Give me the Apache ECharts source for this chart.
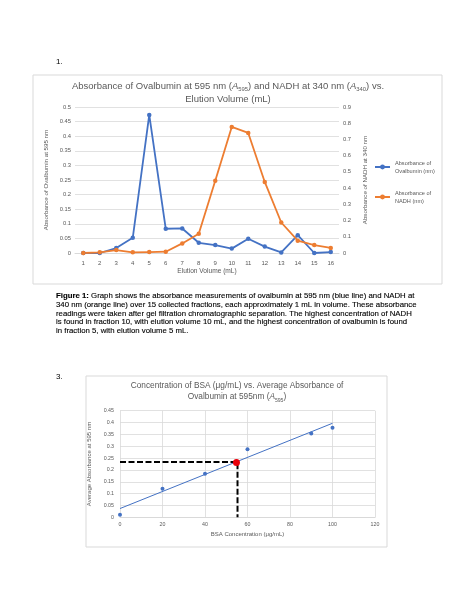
<!DOCTYPE html>
<html><head><meta charset="utf-8">
<script src="https://cdn.jsdelivr.net/npm/echarts@6.0.0/dist/echarts.min.js"></script>
<style>html,body{margin:0;padding:0;background:#fff}#c{width:474px;height:613px}</style>
</head><body><div id="c"></div>
<script>
// ---- Figure 1 data ----
const elutionVolume = ['1','2','3','4','5','6','7','8','9','10','11','12','13','14','15','16'];
const ovalbuminA595 = [0, 0, 0.017, 0.052, 0.473, 0.083, 0.084, 0.035, 0.027, 0.015, 0.049, 0.022, 0.002, 0.061, 0, 0.003];
const nadhA340 = [0, 0.004, 0.018, 0.004, 0.006, 0.008, 0.059, 0.119, 0.446, 0.777, 0.740, 0.438, 0.188, 0.076, 0.049, 0.031];
const leftTicks = {min: 0, max: 0.5, interval: 0.05};
const rightTicks = {min: 0, max: 0.9, interval: 0.1};
// ---- Figure 3 data ----
const bsaConc = [0, 20, 40, 60, 90, 100];
const bsaAbs = [0.011, 0.121, 0.184, 0.287, 0.354, 0.378];
const trendConc = [0, 100];
const trendAbs = [0.037, 0.397];
const unknownConc = [54.8];
const unknownAbs = [0.231];
const guideHConc = [0, 54.8];
const guideHAbs = [0.233, 0.233];
const guideVConc = [55.3, 55.3];
const guideVAbs = [0.228, 0];
const xTicks2 = {min: 0, max: 120, interval: 20};
const yTicks2 = {min: 0, max: 0.45, interval: 0.05};

const FONT = 'Liberation Sans';
const GREY = '#595959';
const GRID = '#d9d9d9';
const fmt = v => String(Math.round(v * 100) / 100);

const chart = echarts.init(document.getElementById('c'), null, {renderer: 'canvas'});

const pairs = (xs, ys) => xs.map((x, i) => [x, ys[i]]);

const capLines = [
  '{b|Figure 1:} Graph shows the absorbance measurements of ovalbumin at 595 nm (blue line) and NADH at',
  '340 nm (orange line) over 15 collected fractions, each approximately 1 mL in volume. These absorbance',
  'readings were taken after gel filtration chromatographic separation. The highest concentration of NADH',
  'is found in fraction 10, with elution volume 10 mL, and the highest concentration of ovalbumin is found',
  'in fraction 5, with elution volume 5 mL.'
];

const subRich = (fs) => ({
  i: {fontStyle: 'italic', fontSize: fs, fontFamily: FONT, color: GREY, lineHeight: 13},
  s: {fontSize: fs * 0.62, fontFamily: FONT, color: GREY, verticalAlign: 'bottom', lineHeight: 9}
});

const option = {
  backgroundColor: '#fff',
  animation: false,
  textStyle: {fontFamily: FONT},
  graphic: [
    {type: 'rect', shape: {x: 33, y: 75, width: 409, height: 209}, style: {fill: '#fff', stroke: GRID, lineWidth: 1}, z: -10},
    {type: 'rect', shape: {x: 86, y: 376, width: 301, height: 171}, style: {fill: '#fff', stroke: GRID, lineWidth: 1}, z: -10},
    {type: 'text', x: 56, y: 62, style: {text: '1.', fontSize: 8, fontFamily: FONT, fill: '#000', verticalAlign: 'middle'}},
    {type: 'text', x: 56, y: 377, style: {text: '3.', fontSize: 8, fontFamily: FONT, fill: '#000', verticalAlign: 'middle'}},
    {type: 'text', x: 228, y: 86, style: {
      text: 'Absorbance of Ovalbumin at 595 nm ({i|A}{s|595}) and NADH at 340 nm ({i|A}{s|340}) vs.',
      fontSize: 9.5, fontFamily: FONT, fill: GREY, align: 'center', verticalAlign: 'middle', lineHeight: 13,
      rich: subRich(9.5)}},
    {type: 'text', x: 228, y: 99, style: {text: 'Elution Volume (mL)', fontSize: 9.5, fontFamily: FONT, fill: GREY, align: 'center', verticalAlign: 'middle'}},
    {type: 'text', x: 237, y: 385.7, style: {text: 'Concentration of BSA (\u03bcg/mL) vs. Average Absorbance of', fontSize: 8.3, fontFamily: FONT, fill: GREY, align: 'center', verticalAlign: 'middle'}},
    {type: 'text', x: 237, y: 396.7, style: {text: 'Ovalbumin at 595nm ({i|A}{s|595})', fontSize: 8.3, fontFamily: FONT, fill: GREY, align: 'center', verticalAlign: 'middle', lineHeight: 13, rich: subRich(8.3)}}
  ].concat(capLines.map((t, k) => ({
    type: 'text', x: 56, y: 296 + k * 8.7,
    style: {text: t, fontSize: 7.8, fontFamily: FONT, fill: '#000', stroke: '#000', lineWidth: 0.12,
      verticalAlign: 'middle', lineHeight: 9,
      rich: {b: {fontWeight: 'bold', fontSize: 7.8, fontFamily: FONT, fill: '#000', lineHeight: 9}}}
  }))),
  legend: {
    orient: 'vertical', left: 374, top: 155, padding: 0,
    itemWidth: 15, itemHeight: 6, itemGap: 6,
    textStyle: {fontSize: 5.6, color: GREY, fontFamily: FONT, lineHeight: 8, padding: [8, 0, 0, 0]},
    data: ['Absorbance of\nOvalbumin (nm)', 'Absorbance of\nNADH (nm)']
  },
  grid: [
    {left: 75, top: 107, width: 264, height: 146, outerBoundsMode: 'none', containLabel: false},
    {left: 120, top: 410.7, width: 255, height: 106.6, outerBoundsMode: 'none', containLabel: false}
  ],
  xAxis: [
    {type: 'category', gridIndex: 0, data: elutionVolume, boundaryGap: true,
      axisLine: {lineStyle: {color: GRID}}, axisTick: {show: false},
      axisLabel: {fontSize: 6, color: GREY, margin: 7, interval: 0},
      name: 'Elution Volume (mL)', nameLocation: 'middle', nameGap: 15,
      nameTextStyle: {fontSize: 6.6, color: GREY}, splitLine: {show: false}},
    {type: 'value', gridIndex: 1, min: xTicks2.min, max: xTicks2.max, interval: xTicks2.interval,
      axisLine: {show: true, lineStyle: {color: GRID}}, axisTick: {show: false},
      axisLabel: {fontSize: 5.3, color: GREY, margin: 5},
      splitLine: {show: true, lineStyle: {color: GRID, width: 0.8}},
      name: 'BSA Concentration (\u03bcg/mL)', nameLocation: 'middle', nameGap: 14,
      nameTextStyle: {fontSize: 6, color: GREY}}
  ],
  yAxis: [
    {type: 'value', gridIndex: 0, min: leftTicks.min, max: leftTicks.max, interval: leftTicks.interval,
      axisLine: {show: false}, axisTick: {show: false},
      axisLabel: {fontSize: 5.8, color: GREY, margin: 4, formatter: fmt},
      splitLine: {show: true, lineStyle: {color: GRID, width: 0.8}},
      name: 'Absorbance of Ovalbumin at 595 nm', nameLocation: 'middle', nameGap: 19,
      nameTextStyle: {fontSize: 6.2, color: GREY}},
    {type: 'value', gridIndex: 0, position: 'right', min: rightTicks.min, max: rightTicks.max, interval: rightTicks.interval,
      axisLine: {show: false}, axisTick: {show: false},
      axisLabel: {fontSize: 5.8, color: GREY, margin: 4, formatter: fmt},
      splitLine: {show: false},
      name: 'Absorbance of NADH at 340 nm', nameLocation: 'middle', nameGap: 21,
      nameTextStyle: {fontSize: 6.2, color: GREY}},
    {type: 'value', gridIndex: 1, min: yTicks2.min, max: yTicks2.max, interval: yTicks2.interval,
      axisLine: {show: false}, axisTick: {show: false},
      axisLabel: {fontSize: 5.3, color: GREY, margin: 6, formatter: fmt},
      splitLine: {show: true, lineStyle: {color: GRID, width: 0.8}},
      name: 'Average Absorbance at 595 nm', nameLocation: 'middle', nameGap: 19,
      nameTextStyle: {fontSize: 6, color: GREY}}
  ],
  series: [
    {name: 'Absorbance of\nOvalbumin (nm)', type: 'line', xAxisIndex: 0, yAxisIndex: 0, data: ovalbuminA595,
      color: '#4472C4', symbol: 'circle', symbolSize: 4.5, lineStyle: {width: 1.8, color: '#4472C4'}, itemStyle: {color: '#4472C4'}},
    {name: 'Absorbance of\nNADH (nm)', type: 'line', xAxisIndex: 0, yAxisIndex: 1, data: nadhA340,
      color: '#ED7D31', symbol: 'circle', symbolSize: 4.5, lineStyle: {width: 1.8, color: '#ED7D31'}, itemStyle: {color: '#ED7D31'}},
    {name: 'trend', type: 'line', xAxisIndex: 1, yAxisIndex: 2, data: pairs(trendConc, trendAbs),
      symbol: 'none', lineStyle: {width: 1, color: '#4472C4'}, z: 2},
    {name: 'BSA', type: 'scatter', xAxisIndex: 1, yAxisIndex: 2, data: pairs(bsaConc, bsaAbs),
      symbolSize: 4, itemStyle: {color: '#4472C4', opacity: 1}, z: 3},
    {name: 'guideH', type: 'line', xAxisIndex: 1, yAxisIndex: 2, data: pairs(guideHConc, guideHAbs),
      symbol: 'none', lineStyle: {width: 2, color: '#000', type: [6, 2.5]}, z: 4},
    {name: 'guideV', type: 'line', xAxisIndex: 1, yAxisIndex: 2, data: pairs(guideVConc, guideVAbs),
      symbol: 'none', lineStyle: {width: 2, color: '#000', type: [6, 2.5]}, z: 4},
    {name: 'unknown', type: 'scatter', xAxisIndex: 1, yAxisIndex: 2, data: pairs(unknownConc, unknownAbs),
      symbolSize: 7, itemStyle: {color: '#E8000B', opacity: 1}, z: 5}
  ]
};
chart.setOption(option);
</script>
</body></html>
